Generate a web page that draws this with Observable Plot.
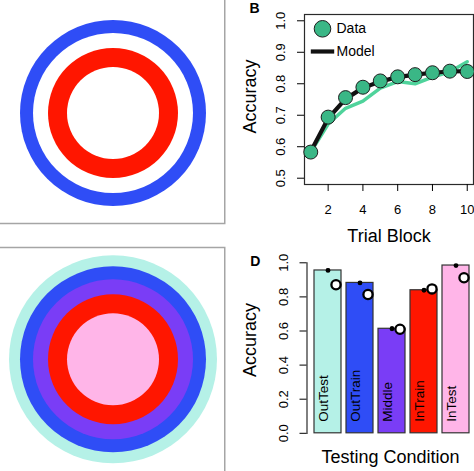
<!DOCTYPE html>
<html>
<head>
<meta charset="utf-8">
<script src="https://cdn.jsdelivr.net/npm/d3@7"></script>
<script src="https://cdn.jsdelivr.net/npm/@observablehq/plot@0.6"></script>
<style>
  html, body { margin: 0; padding: 0; background: #fff; overflow: hidden; }
  #figure { position: relative; width: 474px; height: 471px; overflow: hidden; background: #fff; }
  .panel { position: absolute; }
</style>
</head>
<body>
<div id="figure">
  <div class="panel" id="panelA" style="left:0px;top:0px;width:225px;"></div>
  <div class="panel" id="panelC" style="left:0px;top:236px;width:225px;"></div>
  <div class="panel" id="panelB" style="left:237px;top:0px;width:237px;"></div>
  <div class="panel" id="panelD" style="left:237px;top:236px;width:247px;"></div>
</div>
<script>
// Ring conditions, outermost first, with their edges in stimulus units
const conditions = ["OutTest", "OutTrain", "Middle", "InTrain", "InTest"];
const conditionColors = ["#b5f1e7", "#2f4df6", "#7a3df6", "#ff1600", "#ffb5e8"];
const ringInner = [9.3, 8.0, 6.5, 4.6, 0];
const ringOuter = [10.4, 9.3, 8.0, 6.5, 4.6];
const trainingConditions = ["OutTrain", "InTrain"];

// Accuracy over training blocks
const trialBlocks = [1, 2, 3, 4, 5, 6, 7, 8, 9, 10];
const dataAccuracy = [0.583, 0.694, 0.756, 0.789, 0.809, 0.822, 0.829, 0.835, 0.840, 0.839];
const modelAccuracy = [0.585, 0.690, 0.752, 0.787, 0.807, 0.821, 0.829, 0.835, 0.839, 0.840];
const dataTrace = [0.583, 0.672, 0.722, 0.745, 0.786, 0.807, 0.800, 0.821, 0.838, 0.870];
const blockTicks = [2, 4, 6, 8, 10];
const learningTicks = [0.5, 0.6, 0.7, 0.8, 0.9, 1.0];

// Test accuracy per condition
const testAccuracy = [0.955, 0.882, 0.613, 0.839, 0.984];
const testSE = [0.008, 0.007, 0.012, 0.006, 0.005];
const modelTestAccuracy = [0.871, 0.814, 0.610, 0.847, 0.912];
const testTicks = [0, 0.2, 0.4, 0.6, 0.8, 1.0];

const font = "'Liberation Sans', Arial, Helvetica, sans-serif";
const baseStyle = {fontFamily: font, background: "transparent", maxWidth: "none", overflow: "visible", color: "black"};
const radiusScale = {type: "linear", domain: [0, 10.4], range: [0, 104]};
const pointGreen = "#3ab786";

const rings = conditions.map((c, i) => ({condition: c, color: conditionColors[i], inner: ringInner[i], outer: ringOuter[i]}));

// Training stimulus: only the two trained rings, gaps left white
const discsTrain = rings
  .filter(r => trainingConditions.includes(r.condition))
  .flatMap(r => [{radius: r.outer, fill: r.color}, {radius: r.inner, fill: "white"}]);

// Test stimulus: every ring filled
const discsTest = rings.map(r => ({radius: r.outer, fill: r.color}));

document.getElementById("panelA").append(Plot.plot({
  width: 225, height: 225, margin: 0,
  r: radiusScale,
  style: baseStyle,
  marks: [
    Plot.frame({stroke: "#a5a5a5", strokeWidth: 1.5, insetLeft: -6, insetTop: -6, insetRight: 0.75, insetBottom: 2}),
    Plot.dot(discsTrain, {frameAnchor: "middle", r: "radius", fill: "fill"})
  ]
}));

document.getElementById("panelC").append(Plot.plot({
  width: 225, height: 245.6, margin: 0,
  r: radiusScale,
  style: baseStyle,
  marks: [
    Plot.frame({stroke: "#a5a5a5", strokeWidth: 1.5, insetLeft: -6, insetTop: 11, insetRight: 0.75, insetBottom: -6}),
    Plot.dot(discsTest, {frameAnchor: "middle", r: "radius", fill: "fill"})
  ]
}));

// Learning curve
const curve = trialBlocks.map((b, i) => ({block: b, data: dataAccuracy[i], model: modelAccuracy[i], trace: dataTrace[i]}));
const lineSwatch = {draw(context) { context.moveTo(-11.7, 0); context.lineTo(11.7, 0); }};

document.getElementById("panelB").append(Plot.plot({
  width: 237, height: 246,
  marginLeft: 67, marginRight: 1, marginTop: 14, marginBottom: 62,
  x: {domain: [0.64, 10.36]},
  y: {domain: [0.48, 1.02]},
  style: baseStyle,
  marks: [
    Plot.frame({stroke: "#2a2a2a", strokeWidth: 1.2}),
    Plot.axisX({ticks: blockTicks, tickSize: 7, tickPadding: 13, fontSize: 13, label: null}),
    Plot.axisY({ticks: learningTicks, tickSize: 7, tickPadding: 13, tickRotate: -90, textAnchor: "middle", lineAnchor: "bottom", tickFormat: ".1f", fontSize: 13, label: null}),
    Plot.line(curve, {x: "block", y: "trace", stroke: "#4fd39b", strokeWidth: 3.5}),
    Plot.line(curve, {x: "block", y: "model", stroke: "#111", strokeWidth: 4.2}),
    Plot.dot(curve, {x: "block", y: "data", r: 7, fill: pointGreen, stroke: "#1e1e1e", strokeWidth: 1}),
    // legend
    Plot.dot(["Data"], {frameAnchor: "top-left", dx: 18, dy: 14.3, r: 8.3, fill: pointGreen, stroke: "#1e1e1e", strokeWidth: 1}),
    Plot.dot(["Model"], {frameAnchor: "top-left", dx: 18, dy: 37, r: 8, symbol: lineSwatch, fill: "none", stroke: "#111", strokeWidth: 4.2}),
    Plot.text(["Data"], {frameAnchor: "top-left", dx: 32, dy: 14.5, textAnchor: "start", lineAnchor: "middle", fontSize: 14}),
    Plot.text(["Model"], {frameAnchor: "top-left", dx: 32, dy: 37, textAnchor: "start", lineAnchor: "middle", fontSize: 14}),
    // titles
    Plot.text(["Accuracy"], {frameAnchor: "left", dx: -49, dy: -3, rotate: -90, textAnchor: "middle", lineAnchor: "bottom", fontSize: 18}),
    Plot.text(["Trial Block"], {frameAnchor: "bottom", dy: 57, textAnchor: "middle", lineAnchor: "bottom", fontSize: 18}),
    Plot.text(["B"], {frameAnchor: "top-left", dx: -55, dy: -1.5, textAnchor: "start", lineAnchor: "bottom", fontSize: 14, fontWeight: "bold"})
  ]
}));

// Test accuracy bars
const tests = conditions.map((c, i) => ({
  condition: c, color: conditionColors[i],
  acc: testAccuracy[i], se: testSE[i], model: modelTestAccuracy[i]
}));

document.getElementById("panelD").append(Plot.plot({
  width: 247, height: 235,
  marginLeft: 69.5, marginRight: 0.6, marginTop: 26.3, marginBottom: 38.2,
  x: {type: "band", domain: conditions, paddingInner: 1 / 6, paddingOuter: 0.2833, align: 0.353, axis: null},
  y: {domain: [0, 1]},
  style: baseStyle,
  marks: [
    Plot.frame({anchor: "left", stroke: "#2a2a2a", strokeWidth: 1.2}),
    Plot.axisY({ticks: testTicks, tickSize: 7, tickPadding: 12, tickRotate: -90, textAnchor: "middle", lineAnchor: "bottom", tickFormat: ".1f", fontSize: 13, label: null}),
    Plot.barY(tests, {x: "condition", y: "acc", fill: "color", stroke: "#333", strokeWidth: 1.2}),
    Plot.text(tests, {x: "condition", text: "condition", frameAnchor: "bottom", dy: -11.5, rotate: -90, textAnchor: "start", lineAnchor: "bottom", fontSize: 13.5}),
    Plot.ruleX(tests, {x: "condition", y1: d => d.acc - d.se, y2: d => d.acc + d.se, stroke: "black", strokeWidth: 3}),
    Plot.dot(tests, {x: "condition", y: "acc", r: 2.4, fill: "black"}),
    Plot.dot(tests, {x: "condition", y: "model", r: 4.6, fill: "white", stroke: "black", strokeWidth: 2.3, dx: 8}),
    Plot.text(["Accuracy"], {frameAnchor: "left", dx: -51.5, dy: -8, rotate: -90, textAnchor: "middle", lineAnchor: "bottom", fontSize: 18}),
    Plot.text(["Testing Condition"], {frameAnchor: "bottom", dx: -5, dy: 29.2, textAnchor: "middle", lineAnchor: "bottom", fontSize: 18}),
    Plot.text(["D"], {frameAnchor: "top-left", dx: -56.8, dy: 3, textAnchor: "start", lineAnchor: "bottom", fontSize: 14, fontWeight: "bold"})
  ]
}));
</script>
</body>
</html>
